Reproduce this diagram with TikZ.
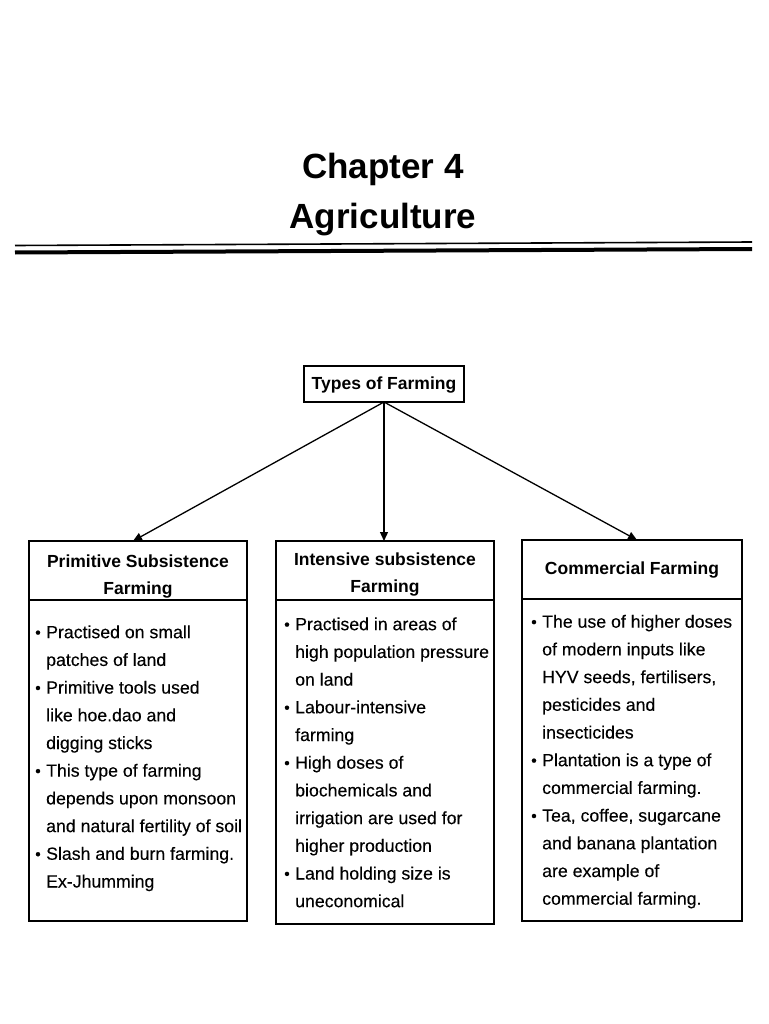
\documentclass[tikz,border=0pt]{standalone}
\usepackage{fontspec}
\setmainfont{Liberation Sans}[UprightFeatures={FakeBold=0.2}]
\usetikzlibrary{arrows.meta,calc}
\newcommand{\bl}{\makebox[11pt][l]{\raisebox{0.3pt}{\scalebox{0.9}{•}}}}
\newcommand{\ind}{\hspace*{11pt}}
\newcommand{\fst}{\rule{0pt}{14pt}}
\begin{document}
\begin{tikzpicture}[x=1pt,y=-1pt,
  box/.style={draw, line width=1.4pt, inner sep=0pt, outer sep=0pt, anchor=north west},
  bodytext/.style={anchor=north west, inner sep=0pt, align=left, font=\fontsize{17.7}{27.7}\selectfont},
  headtext/.style={anchor=north, inner sep=0pt, align=center, font=\bfseries\fontsize{17.5}{27.7}\selectfont},
  conn/.style={line width=1.3pt, -{Triangle[length=9pt,width=8pt]}}]
\fill[white] (0,0) rectangle (768,1024);
\useasboundingbox (0,0) rectangle (768,1024);
% title
\node[anchor=base, inner sep=0pt, font=\bfseries\fontsize{35}{40}\selectfont] (t1) at (383,179) {Chapter 4};
\node[anchor=base, inner sep=0pt, font=\bfseries\fontsize{35}{40}\selectfont] (t2) at (383,229) {Agriculture};
\coordinate (r1a) at (15,245.5);
\coordinate (r1b) at (752,242);
\coordinate (r2a) at (15,252.5);
\coordinate (r2b) at (752,249);
\draw[line width=1.6pt] (r1a) -- (r1b);
\draw[line width=4pt] (r2a) -- (r2b);
% top box
\node[box, minimum width=160pt, minimum height=36pt] (top) at (304,366) {};
\node[anchor=base, inner sep=0pt, font=\bfseries\fontsize{17.5}{20}\selectfont] (toptext) at (384,389) {Types of Farming};
% three boxes
\node[box, minimum width=218pt, minimum height=380pt] (L) at (29,541) {};
\node[box, minimum width=218pt, minimum height=383pt] (M) at (276,541) {};
\node[box, minimum width=220pt, minimum height=381pt] (R) at (522,540) {};
\draw[line width=1.4pt] (L.west |- 0,600) -- (L.east |- 0,600);
\draw[line width=1.4pt] (M.west |- 0,600) -- (M.east |- 0,600);
\draw[line width=1.4pt] (R.west |- 0,599) -- (R.east |- 0,599);
% arrows
\draw[conn] (top.south) -- ($(L.north)+(-5,0)$);
\draw[conn] (top.south) -- (M.north -| top.south);
\draw[conn] (top.south) -- ($(R.north)+(5,0)$);
% headers
\node[headtext] (Lh) at (138,553) {\fst Primitive Subsistence\\Farming};
\node[headtext] (Mh) at (385,551) {\fst Intensive subsistence\\Farming};
\node[anchor=base, inner sep=0pt, font=\bfseries\fontsize{17.5}{27.7}\selectfont] (Rh) at (632,574) {Commercial Farming};
% bodies
\node[bodytext] (Lb) at (35,624) {\fst\bl Practised on small\\
\ind patches of land\\
\bl Primitive tools used\\
\ind like hoe.dao and\\
\ind digging sticks\\
\bl This type of farming\\
\ind depends upon monsoon\\
\ind and natural fertility of soil\\
\bl Slash and burn farming.\\
\ind Ex-Jhumming};
\node[bodytext] (Mb) at (284,616) {\fst\bl Practised in areas of\\
\ind high population pressure\\
\ind on land\\
\bl Labour-intensive\\
\ind farming\\
\bl High doses of\\
\ind biochemicals and\\
\ind irrigation are used for\\
\ind higher production\\
\bl Land holding size is\\
\ind uneconomical};
\node[bodytext] (Rb) at (531,613.5) {\fst\bl The use of higher doses\\
\ind of modern inputs like\\
\ind HYV seeds, fertilisers,\\
\ind pesticides and\\
\ind insecticides\\
\bl Plantation is a type of\\
\ind commercial farming.\\
\bl Tea, coffee, sugarcane\\
\ind and banana plantation\\
\ind are example of\\
\ind commercial farming.};
\end{tikzpicture}
\end{document}
